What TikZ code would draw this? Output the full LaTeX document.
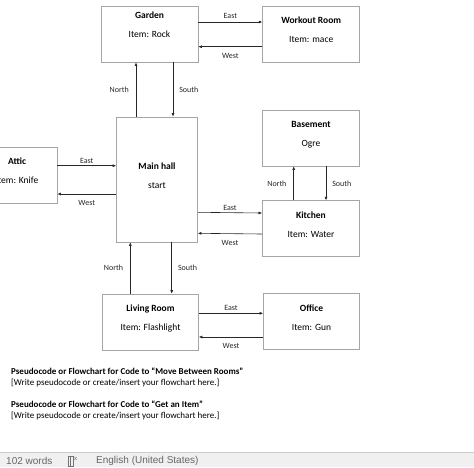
\documentclass[tikz,border=0pt]{standalone}
\usepackage{fontspec}
\setmainfont{Carlito}
\newfontfamily\barfont{Liberation Sans}
\usetikzlibrary{positioning,arrows.meta}

\begin{document}
\begin{tikzpicture}[x=1pt, y=-1pt,
    room/.style={rectangle, draw=gray!70, line width=0.7pt, minimum width=97pt, minimum height=56pt, align=center, font=\fontsize{9.5}{11}\selectfont},
    tallroom/.style={room, minimum width=81pt, minimum height=125pt},
    move/.style={-{Latex[length=3.5pt,width=3pt]}, line width=0.6pt, black!85},
    dir/.style={font=\fontsize{8}{9}\selectfont, text=black!85, inner sep=2pt},
    note/.style={anchor=base west, font=\fontsize{9}{11}\selectfont, inner sep=0pt},
    bartext/.style={anchor=west, font=\barfont\fontsize{10}{12}\selectfont, text=black!60, inner sep=0pt},
]
\useasboundingbox (0,0) rectangle (474,467);

% Top row
\node[room] (gdn) at (149.5,34) {\textbf{Garden}\\[8pt]Item: Rock\\[7pt]\mbox{}};
\node[room, right=64pt of gdn] (wkt) {\textbf{Workout Room}\\[8pt]Item: mace\\[-3pt]\mbox{}};

% Middle row
\node[tallroom] (hall) at (157,179.5) {\textbf{Main hall}\\[8pt]start\\[-4pt]\mbox{}};
\node[room, minimum width=80pt] (att) at (17,175) {\textbf{Attic}\\[8pt]Item: Knife\\[-3pt]\mbox{}};
\node[room] (bsm) at (311,138) {\textbf{Basement}\\[8pt]Ogre\\[-3pt]\mbox{}};
\node[room, below=34pt of bsm] (kit) {\textbf{Kitchen}\\[8pt]Item: Water\\[-3pt]\mbox{}};

% Bottom row
\node[room, minimum width=96pt] (liv) at (150.5,322) {\textbf{Living Room}\\[8pt]Item: Flashlight\\[-3pt]\mbox{}};
\node[room, minimum width=96pt] (off) at (311.5,321.5) {\textbf{Office}\\[8pt]Item: Gun\\[-3pt]\mbox{}};

% East / West moves
\draw[move] ([yshift=12pt]gdn.east) -- ([yshift=12pt]wkt.west) node[dir, midway, above=1pt] {East};
\draw[move] ([yshift=-12.7pt]wkt.west) -- ([yshift=-12.7pt]gdn.east) node[dir, midway, below=4pt] {West};
\draw[move] ([yshift=9.3pt]att.east) -- ([yshift=13.8pt]hall.west) node[dir, midway, above] {East};
\draw[move] ([yshift=-14.5pt]hall.west) -- ([yshift=-19pt]att.east) node[dir, midway, below=4pt] {West};
\draw[move] ([yshift=-32.8pt]hall.east) -- ([yshift=15.7pt]kit.west) node[dir, midway, above] {East};
\draw[move] ([yshift=-5.3pt]kit.west) -- ([yshift=-53.8pt]hall.east) node[dir, midway, below=4pt] {West};
\draw[move] ([yshift=8.7pt]liv.east) -- ([yshift=8.2pt]off.west) node[dir, midway, above] {East};
\draw[move] ([yshift=-15.5pt]off.west) -- ([yshift=-15pt]liv.east) node[dir, midway, below=4pt] {West};

% North / South moves
\draw[move] ([xshift=-21pt]hall.north) -- ([xshift=-13.5pt]gdn.south) node[dir, midway, left=5pt] {North};
\draw[move] ([xshift=23.5pt]gdn.south) -- ([xshift=16pt]hall.north) node[dir, midway, right=4pt] {South};
\draw[move] ([xshift=-17.3pt]kit.north) -- ([xshift=-17.3pt]bsm.south) node[dir, midway, left=5pt] {North};
\draw[move] ([xshift=15pt]bsm.south) -- ([xshift=15pt]kit.north) node[dir, midway, right=4pt] {South};
\draw[move] ([xshift=-20.2pt]liv.north) -- ([xshift=-26.7pt]hall.south) node[dir, midway, left=5pt] {North};
\draw[move] ([xshift=14.7pt]hall.south) -- ([xshift=21.2pt]liv.north) node[dir, midway, right=4pt] {South};

% Notes below the map
\node[note] (n1) at (11,374) {\textbf{Pseudocode or Flowchart for Code to “Move Between Rooms”}};
\node[note] (n2) at (11,385) {[Write pseudocode or create/insert your flowchart here.]};
\node[note] (n3) at (11,407) {\textbf{Pseudocode or Flowchart for Code to “Get an Item”}};
\node[note] (n4) at (11,418) {[Write pseudocode or create/insert your flowchart here.]};

% Status bar
\fill[gray!12] (0,452) rectangle (474,467);
\draw[gray!40, line width=0.6pt] (0,452) -- (474,452);
\node[bartext] (words) at (6,461) {102 words};
\draw[black!55, line width=0.5pt] (68,456) -- (68,466) (68,456) -- (73,456) -- (73,466) -- (68,466) (70.5,456) -- (70.5,466);
\node[bartext, font=\barfont\fontsize{6}{7}\selectfont] (mark) at (74,459) {x};
\node[bartext] (lang) at (96,461) {English (United States)};
\end{tikzpicture}
\end{document}
